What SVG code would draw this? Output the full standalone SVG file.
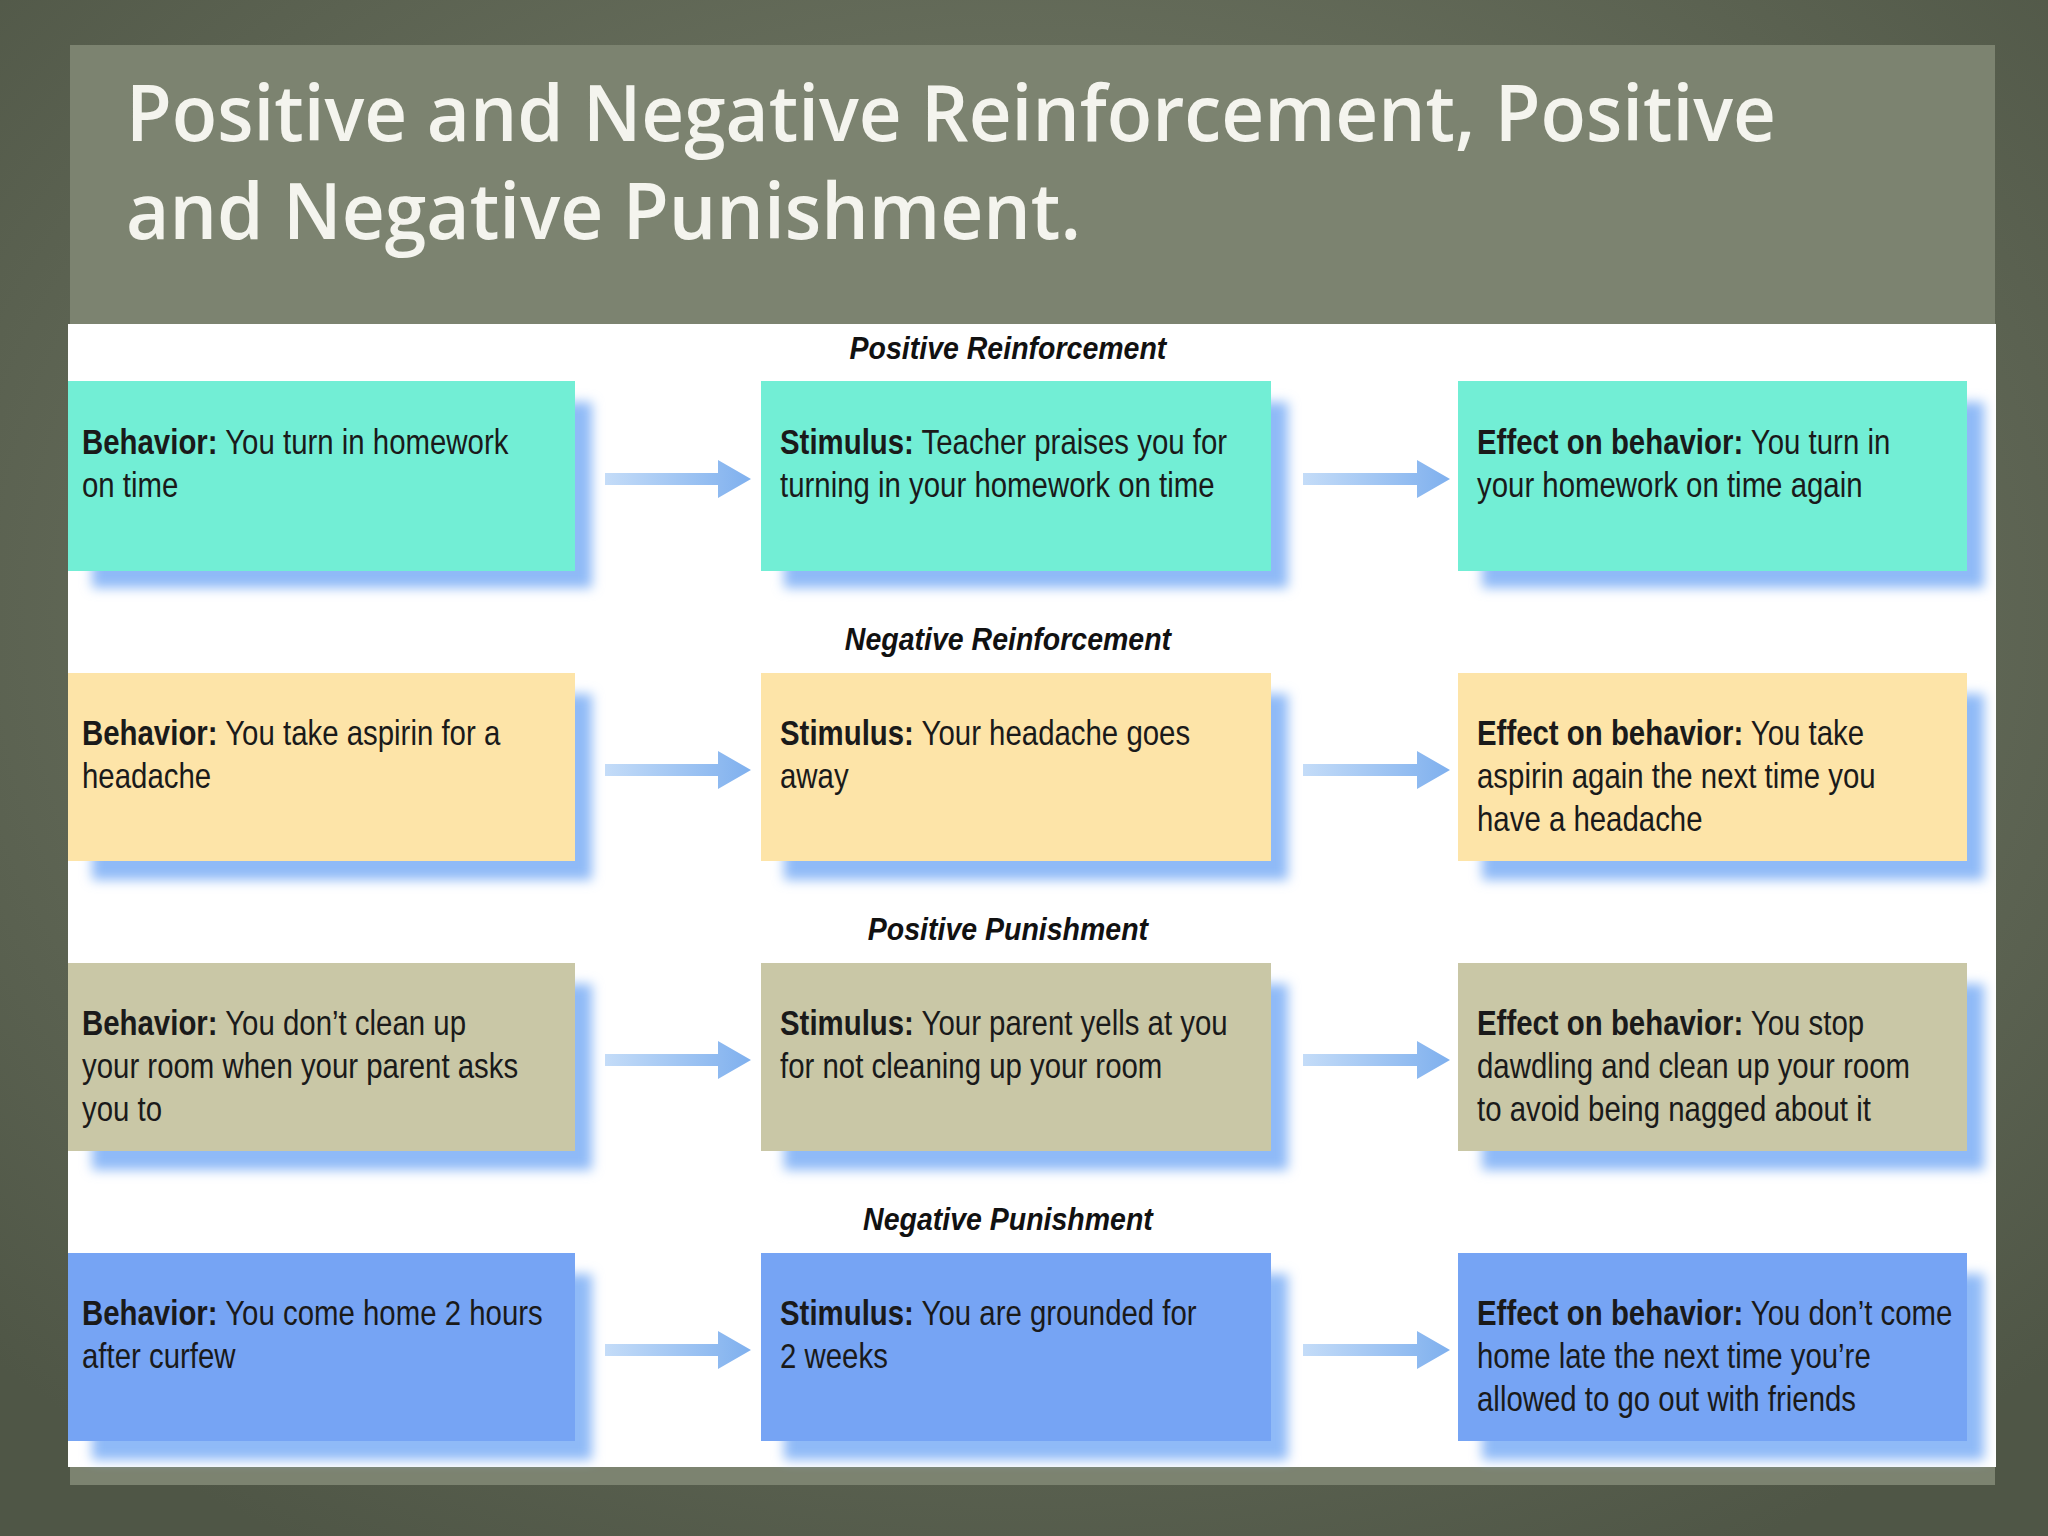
<svg xmlns="http://www.w3.org/2000/svg" width="2048" height="1536" viewBox="0 0 2048 1536">
<defs>
<filter id="blur" x="-10%" y="-10%" width="120%" height="120%"><feGaussianBlur stdDeviation="6"/></filter>
<linearGradient id="ag" x1="0" x2="1"><stop offset="0" stop-color="#c4dcf8"/><stop offset="1" stop-color="#7fb0ee"/></linearGradient>
<radialGradient id="bg" cx="0.5" cy="0.4" r="0.7"><stop offset="0" stop-color="#7d8470"/><stop offset="1" stop-color="#4f5646"/></radialGradient>
</defs>
<style>
.h{font-family:"Liberation Sans",Arial,sans-serif;font-weight:bold;font-style:italic;font-size:31px;fill:#111;text-anchor:middle}
.t{font-family:"Liberation Sans",Arial,sans-serif;font-size:35px;fill:#1a1a1a}
.t tspan.b{font-weight:bold}
.ttl{font-family:"Open Sans","Liberation Sans",sans-serif;font-weight:600;font-size:78px;fill:#f4f4ee}
.sh{fill:#8fbaf7;filter:url(#blur)}
</style>
<rect width="2048" height="1536" fill="url(#bg)"/>
<rect x="70" y="45" width="1925" height="1440" fill="#7c8370"/>
<text class="ttl" x="126" y="141" textLength="1650" lengthAdjust="spacingAndGlyphs">Positive and Negative Reinforcement, Positive</text>
<text class="ttl" x="126" y="239" textLength="955" lengthAdjust="spacingAndGlyphs">and Negative Punishment.</text>
<rect x="68" y="324" width="1928" height="1143" fill="#ffffff"/>
<g id="headings" transform="matrix(0.92 0 0 1 80.6 0)">
<text class="h" x="1008" y="359">Positive  Reinforcement</text>
<text class="h" x="1008" y="650">Negative  Reinforcement</text>
<text class="h" x="1008" y="940">Positive  Punishment</text>
<text class="h" x="1008" y="1230">Negative  Punishment</text>
</g>
<g id="shadows">
<rect class="sh" x="92" y="402" width="500" height="186"/><rect class="sh" x="784" y="402" width="504" height="186"/><rect class="sh" x="1482" y="402" width="502" height="186"/>
<rect class="sh" x="92" y="694" width="500" height="186"/><rect class="sh" x="784" y="694" width="504" height="186"/><rect class="sh" x="1482" y="694" width="502" height="186"/>
<rect class="sh" x="92" y="984" width="500" height="186"/><rect class="sh" x="784" y="984" width="504" height="186"/><rect class="sh" x="1482" y="984" width="502" height="186"/>
<rect class="sh" x="92" y="1274" width="500" height="186"/><rect class="sh" x="784" y="1274" width="504" height="186"/><rect class="sh" x="1482" y="1274" width="502" height="186"/>
</g>
<g id="r1">
<g id="pr-b"><rect x="68" y="381" width="507" height="190" fill="#72eed5"/><text class="t" transform="matrix(0.84 0 0 1 82 0)" x="0" y="454"><tspan class="b">Behavior:</tspan> You turn in homework<tspan x="0" dy="43">on time</tspan></text></g>
<g id="pr-s"><rect x="761" y="381" width="510" height="190" fill="#72eed5"/><text class="t" transform="matrix(0.84 0 0 1 780 0)" x="0" y="454"><tspan class="b">Stimulus:</tspan> Teacher praises you for<tspan x="0" dy="43">turning in your homework on time</tspan></text></g>
<g id="pr-e"><rect x="1458" y="381" width="509" height="190" fill="#72eed5"/><text class="t" transform="matrix(0.84 0 0 1 1477 0)" x="0" y="454"><tspan class="b">Effect on behavior:</tspan> You turn in<tspan x="0" dy="43">your homework on time again</tspan></text></g>
</g>
<g id="r2">
<g id="nr-b"><rect x="68" y="673" width="507" height="188" fill="#fde4a8"/><text class="t" transform="matrix(0.84 0 0 1 82 0)" x="0" y="745"><tspan class="b">Behavior:</tspan> You take aspirin for a<tspan x="0" dy="43">headache</tspan></text></g>
<g id="nr-s"><rect x="761" y="673" width="510" height="188" fill="#fde4a8"/><text class="t" transform="matrix(0.84 0 0 1 780 0)" x="0" y="745"><tspan class="b">Stimulus:</tspan> Your headache goes<tspan x="0" dy="43">away</tspan></text></g>
<g id="nr-e"><rect x="1458" y="673" width="509" height="188" fill="#fde4a8"/><text class="t" transform="matrix(0.84 0 0 1 1477 0)" x="0" y="745"><tspan class="b">Effect on behavior:</tspan> You take<tspan x="0" dy="43">aspirin again the next time you</tspan><tspan x="0" dy="43">have a headache</tspan></text></g>
</g>
<g id="r3">
<g id="pp-b"><rect x="68" y="963" width="507" height="188" fill="#c9c7a6"/><text class="t" transform="matrix(0.84 0 0 1 82 0)" x="0" y="1035"><tspan class="b">Behavior:</tspan> You don’t clean up<tspan x="0" dy="43">your room when your parent asks</tspan><tspan x="0" dy="43">you to</tspan></text></g>
<g id="pp-s"><rect x="761" y="963" width="510" height="188" fill="#c9c7a6"/><text class="t" transform="matrix(0.84 0 0 1 780 0)" x="0" y="1035"><tspan class="b">Stimulus:</tspan> Your parent yells at you<tspan x="0" dy="43">for not cleaning up your room</tspan></text></g>
<g id="pp-e"><rect x="1458" y="963" width="509" height="188" fill="#c9c7a6"/><text class="t" transform="matrix(0.84 0 0 1 1477 0)" x="0" y="1035"><tspan class="b">Effect on behavior:</tspan>  You stop<tspan x="0" dy="43">dawdling and clean up your room</tspan><tspan x="0" dy="43">to avoid being nagged about it</tspan></text></g>
</g>
<g id="r4">
<g id="np-b"><rect x="68" y="1253" width="507" height="188" fill="#76a4f4"/><text class="t" transform="matrix(0.84 0 0 1 82 0)" x="0" y="1325"><tspan class="b">Behavior:</tspan> You come home 2 hours<tspan x="0" dy="43">after curfew</tspan></text></g>
<g id="np-s"><rect x="761" y="1253" width="510" height="188" fill="#76a4f4"/><text class="t" transform="matrix(0.84 0 0 1 780 0)" x="0" y="1325"><tspan class="b">Stimulus:</tspan> You are grounded for<tspan x="0" dy="43">2 weeks</tspan></text></g>
<g id="np-e"><rect x="1458" y="1253" width="509" height="188" fill="#76a4f4"/><text class="t" transform="matrix(0.84 0 0 1 1477 0)" x="0" y="1325"><tspan class="b">Effect on behavior:</tspan> You don’t come<tspan x="0" dy="43">home late the next time you’re</tspan><tspan x="0" dy="43">allowed to go out with friends</tspan></text></g>
</g>
<g id="connectors" fill="url(#ag)">
<path d="M605 473 H718 V460 L751 479 L718 498 V485 H605 Z"/>
<path d="M1303 473 H1417 V460 L1450 479 L1417 498 V485 H1303 Z"/>
<path d="M605 764 H718 V751 L751 770 L718 789 V776 H605 Z"/>
<path d="M1303 764 H1417 V751 L1450 770 L1417 789 V776 H1303 Z"/>
<path d="M605 1054 H718 V1041 L751 1060 L718 1079 V1066 H605 Z"/>
<path d="M1303 1054 H1417 V1041 L1450 1060 L1417 1079 V1066 H1303 Z"/>
<path d="M605 1344 H718 V1331 L751 1350 L718 1369 V1356 H605 Z"/>
<path d="M1303 1344 H1417 V1331 L1450 1350 L1417 1369 V1356 H1303 Z"/>
</g>
</svg>
